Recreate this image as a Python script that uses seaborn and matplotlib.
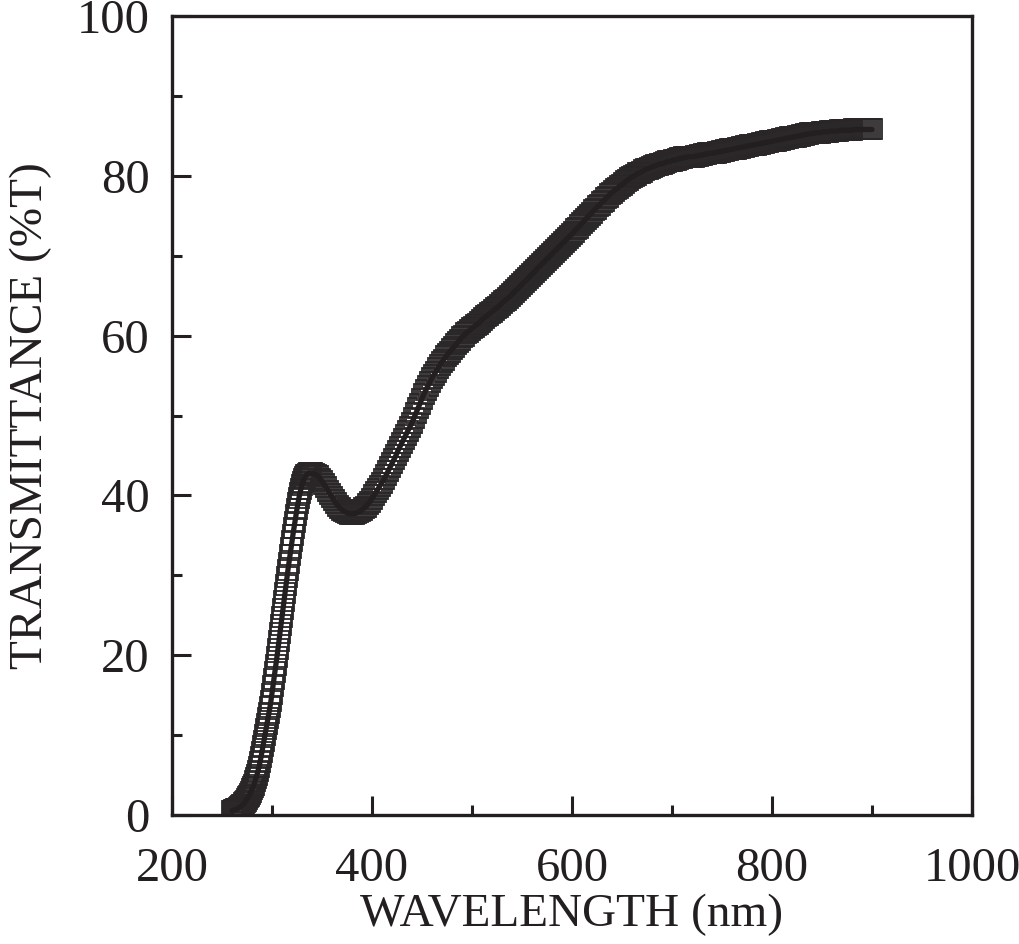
import numpy as np
import pandas as pd
import matplotlib
matplotlib.use("Agg")
import matplotlib.pyplot as plt
import seaborn as sns

# wavelength grid (nm): 1 nm steps over the steep edge, 2 nm after it
wl_edge = np.arange(260, 341, 1)
wl_dip = np.arange(342, 500, 2)
wl_tail = np.arange(500, 901, 2)

# transmittance (%T)
t_edge = [0.5, 0.5, 0.6, 0.6, 0.7, 0.7, 0.8, 0.9, 1.0, 1.1,
          1.2, 1.3, 1.5, 1.6, 1.8, 2.0, 2.2, 2.4, 2.6, 2.9,
          3.2, 3.5, 3.8, 4.2, 4.6, 5.0, 5.5, 6.0, 6.6, 7.2,
          7.9, 8.6, 9.3, 10.0, 10.7, 11.4, 12.1, 12.8, 13.5, 14.3,
          15.2, 16.1, 17.0, 17.9, 18.8, 19.8, 20.8, 21.8, 22.8, 23.8,
          24.8, 25.8, 26.8, 27.8, 28.8, 29.8, 30.7, 31.6, 32.5, 33.4,
          34.3, 35.1, 35.9, 36.7, 37.5, 38.3, 39.0, 39.7, 40.3, 40.8,
          41.3, 41.7, 42.0, 42.3, 42.5, 42.6, 42.7, 42.8, 42.8, 42.8, 42.8]
t_dip = [42.7, 42.6, 42.4, 42.1, 41.8, 41.4, 41.0, 40.6, 40.2, 39.8,
         39.4, 39.0, 38.7, 38.4, 38.2, 38.0, 37.9, 37.8, 37.7, 37.7,
         37.7, 37.8, 37.9, 38.0, 38.2, 38.4, 38.6, 38.9, 39.2, 39.6,
         40.0, 40.4, 40.8, 41.2, 41.6, 42.0, 42.5, 43.0, 43.5, 44.0,
         44.5, 45.0, 45.6, 46.1, 46.6, 47.1, 47.6, 48.1, 48.6, 49.1,
         49.7, 50.3, 50.9, 51.5, 52.1, 52.7, 53.2, 53.7, 54.2, 54.7,
         55.1, 55.5, 55.9, 56.3, 56.7, 57.0, 57.4, 57.7, 58.0, 58.3,
         58.6, 58.9, 59.2, 59.5, 59.8, 60.0, 60.3, 60.5, 60.7]
t_tail = [60.9, 61.1, 61.3, 61.5, 61.7, 62.0, 62.2, 62.4, 62.6, 62.8,
          63.0, 63.2, 63.4, 63.6, 63.8, 64.1, 64.3, 64.5, 64.7, 64.9,
          65.2, 65.4, 65.7, 65.9, 66.2, 66.4, 66.7, 66.9, 67.2, 67.4,
          67.7, 67.9, 68.2, 68.5, 68.7, 69.0, 69.2, 69.5, 69.7, 70.0,
          70.2, 70.5, 70.7, 71.0, 71.2, 71.5, 71.7, 72.0, 72.2, 72.5,
          72.7, 73.0, 73.3, 73.5, 73.8, 74.1, 74.3, 74.6, 74.9, 75.1,
          75.4, 75.7, 75.9, 76.2, 76.4, 76.7, 76.9, 77.2, 77.4, 77.7,
          77.9, 78.1, 78.3, 78.5, 78.7, 78.9, 79.1, 79.3, 79.5, 79.7,
          79.8, 80.0, 80.1, 80.3, 80.4, 80.5, 80.7, 80.8, 80.9, 81.0,
          81.1, 81.2, 81.3, 81.4, 81.5, 81.5, 81.6, 81.7, 81.8, 81.8,
          81.9, 82.0, 82.0, 82.1, 82.2, 82.2, 82.3, 82.3, 82.4, 82.4,
          82.4, 82.4, 82.5, 82.5, 82.6, 82.6, 82.7, 82.7, 82.8, 82.8,
          82.8, 82.9, 82.9, 83.0, 83.0, 83.1, 83.1, 83.2, 83.2, 83.3,
          83.3, 83.4, 83.4, 83.5, 83.5, 83.6, 83.6, 83.7, 83.7, 83.8,
          83.8, 83.9, 83.9, 84.0, 84.0, 84.1, 84.1, 84.2, 84.2, 84.3,
          84.3, 84.4, 84.4, 84.5, 84.5, 84.6, 84.6, 84.7, 84.7, 84.8,
          84.8, 84.9, 84.9, 85.0, 85.0, 85.1, 85.1, 85.2, 85.2, 85.3,
          85.3, 85.3, 85.4, 85.4, 85.4, 85.5, 85.5, 85.5, 85.5, 85.6,
          85.6, 85.6, 85.6, 85.6, 85.7, 85.7, 85.7, 85.7, 85.7, 85.7,
          85.7, 85.8, 85.8, 85.8, 85.8, 85.8, 85.8, 85.8, 85.8, 85.8, 85.8]

x_ticks = [200, 400, 600, 800, 1000]
y_ticks = [0, 20, 40, 60, 80, 100]

df = pd.DataFrame({
    "wavelength": np.concatenate([wl_edge, wl_dip, wl_tail]),
    "T": np.concatenate([t_edge, t_dip, t_tail]),
})

sns.set_style("ticks")
plt.rcParams["font.family"] = ["Liberation Serif", "DejaVu Serif"]

fig = plt.figure(figsize=(10.2, 9.44), dpi=100)
ax = fig.add_axes([0.1686, 0.1367, 0.7843, 0.8463])

# open squares
sns.lineplot(data=df, x="wavelength", y="T", ax=ax, linestyle="none",
             marker="s", markersize=14, markerfacecolor="none",
             markeredgecolor="#2a2627", markeredgewidth=1.3)
# thick line on top
sns.lineplot(data=df, x="wavelength", y="T", ax=ax, color="#231f20", linewidth=3.8)

ax.set_xlim(200, 1000)
ax.set_ylim(0, 100)
ax.set_xticks(x_ticks)
ax.set_yticks(y_ticks)
ax.set_xticks(np.arange(300, 1000, 200), minor=True)
ax.set_yticks(np.arange(10, 100, 20), minor=True)

ax.tick_params(which="both", direction="in", top=False, right=False,
               width=2.2, color="#231f20", labelsize=35)
ax.tick_params(axis="x", pad=23)
ax.tick_params(axis="y", pad=16)
ax.tick_params(which="major", length=14)
ax.tick_params(which="minor", length=7)
for s in ax.spines.values():
    s.set_linewidth(2.4)
    s.set_color("#231f20")

ax.set_xlabel("WAVELENGTH (nm)", fontsize=34, labelpad=2, color="#231f20")
ax.set_ylabel("TRANSMITTANCE (%T)", fontsize=34, labelpad=18, color="#231f20")
for lab in ax.get_xticklabels() + ax.get_yticklabels():
    lab.set_color("#231f20")

fig.savefig("out.png", dpi=100)
